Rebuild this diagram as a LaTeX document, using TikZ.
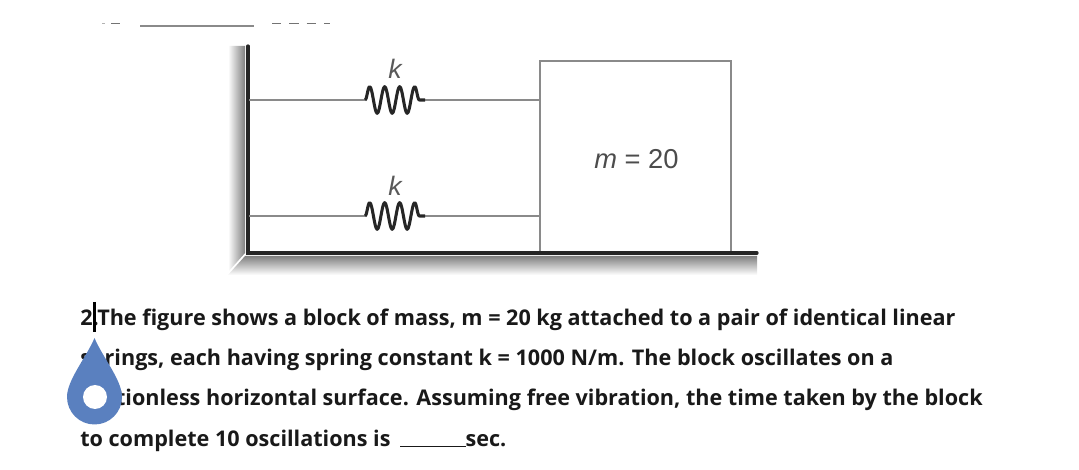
\documentclass[tikz,border=0pt]{standalone}
\usepackage{fontspec}
\setmainfont{Open Sans}
\newfontfamily\figfont{Liberation Sans}
\usepackage{amsmath}
\usetikzlibrary{positioning}
\usetikzlibrary{decorations.pathmorphing}
\definecolor{dropblue}{HTML}{5A80BF}
\definecolor{leadgrey}{HTML}{8A8A8A}
\begin{document}
\begin{tikzpicture}[x=0.75pt, y=-0.75pt,
                every node/.append style={align=center},
                lead/.style={draw=leadgrey, line width=0.9pt},
                spring/.style={draw=black!85, line width=2.3pt, line join=round,
                    decorate, decoration={snake, amplitude=10pt, segment length=11.25pt}},
                ground/.style={draw=black!85, line width=2.4pt},
                sym/.style={font=\figfont\fontsize{20}{24}\selectfont\itshape, text=black!65, inner sep=0pt},
                txt/.style={font=\fontsize{16.2}{20}\selectfont\bfseries, text=black!90, inner sep=0pt, anchor=base west}]
\useasboundingbox (0,0) rectangle (1079,470);

% scan leftovers on top
\draw[leadgrey, line width=1.4pt] (140,26) -- (254,26);
\draw[black!55, line width=0.7pt, dash pattern=on 7pt off 6pt] (272,23.5) -- (330,23.5);
\draw[black!55, line width=0.7pt] (111,23.5) -- (120,23.5);
\draw[black!30, line width=0.7pt] (102,23.5) -- (105,23.5);

% shadow of wall and floor
\shade[left color=white, right color=black!50] (228,46) -- (245,46) -- (245,253) -- (228,272) -- cycle;
\shade[top color=black!50, bottom color=white] (228,275) -- (245,256) -- (757,256) -- (757,275) -- cycle;

% block
\node[draw=leadgrey, line width=1pt, minimum width=143.25pt, minimum height=144pt, inner sep=0pt] (block) at (635.5,157) {};
\node[font=\figfont\fontsize{20.5}{24}\selectfont, text=black!70, inner sep=0pt] (mass) at (636.5,159) {\textit{m} = 20};

% wall and floor
\coordinate (wt) at (248,46);
\coordinate (wb) at (248,253);
\coordinate (fr) at (757,253);
\draw[ground, line cap=round] (wt) -- (wb) -- (fr);

% springs
\coordinate (w1) at (249,100);
\coordinate (w2) at (249,216);
\coordinate (b1) at (block.west |- w1);
\coordinate (b2) at (block.west |- w2);
\foreach \a/\b/\y in {w1/b1/100, w2/b2/216}{
    \coordinate (sl) at (365,\y);
    \coordinate (sr) at (425,\y);
    \draw[lead] (\a) -- (sl);
    \draw[lead] (sr) -- (\b);
    \path[spring] (sl) -- (sr);
}
\node[sym] (k1) at (395,69) {k};
\node[sym] (k2) at (395,186) {k};

% question text
\node[txt] (line1) at (80,326) {2.The figure shows a block of mass, m = 20 kg attached to a pair of identical linear};
\node[txt] (line2) at (80,366) {springs, each having spring constant k = 1000 N/m. The block oscillates on a};
\node[txt] (line3) at (80,406) {frictionless horizontal surface. Assuming free vibration, the time taken by the block};
\node[txt] (line4) at (80,446) {to complete 10 oscillations is\hspace{3pt} \rule[-1pt]{49pt}{0.8pt}sec.};

% cursor and drop handle
\draw[black, line width=1.6pt] (94.5,302) -- (94.5,332);
\fill[dropblue] (94.5,338) .. controls (103,358) and (122,380) .. (122,397) arc[start angle=0, end angle=180, radius=27.5] .. controls (67,380) and (86,358) .. (94.5,338) -- cycle;
\fill[white] (95,397) circle[radius=12];
\end{tikzpicture}
\end{document}
